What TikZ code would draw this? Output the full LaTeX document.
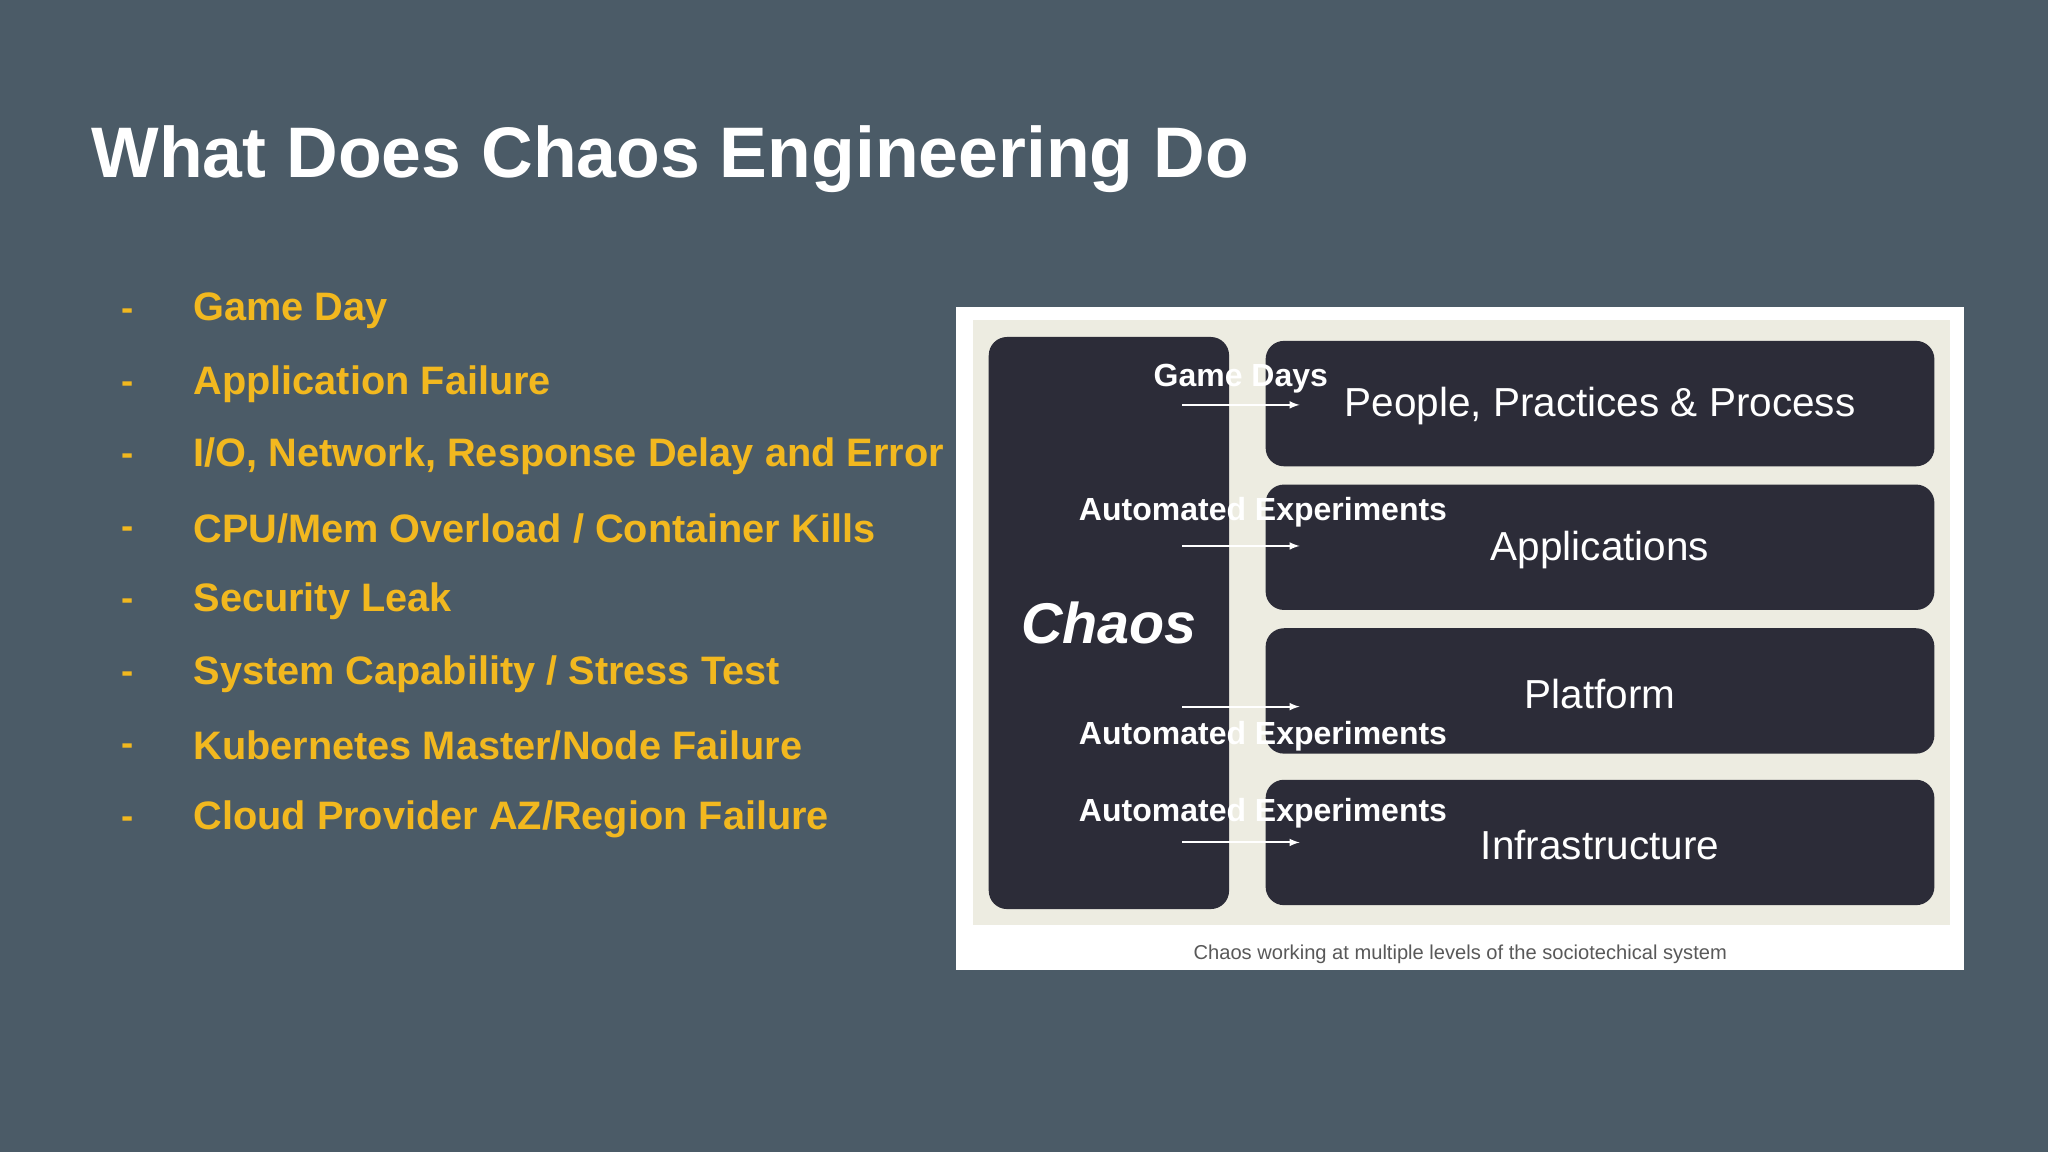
\documentclass[tikz,border=0pt]{standalone}
\usepackage{fontspec}
\setmainfont{Liberation Sans}
\begin{document}
\begin{tikzpicture}[x=1pt,y=-1pt,
  item/.style={anchor=west,text=yel,font=\fontsize{30.4}{32}\selectfont\bfseries,inner sep=0},
  bul/.style={anchor=west,text=yel,font=\fontsize{28}{30}\selectfont\bfseries,inner sep=0},
  box/.style={fill=boxc,rounded corners=14pt},
  lab/.style={text=white,font=\fontsize{31}{33}\selectfont,inner sep=0},
  alab/.style={text=white,font=\fontsize{24.5}{26}\selectfont\bfseries,inner sep=0},
  arr/.style={white,line width=1.6pt,-latex}]
\definecolor{bg}{HTML}{4B5B67}
\definecolor{yel}{HTML}{F2B81F}
\definecolor{boxc}{HTML}{2C2C38}
\definecolor{beige}{HTML}{EDECE1}
\useasboundingbox (0,0) rectangle (1568,882);
\fill[bg] (0,0) rectangle (1568,882);
\node[anchor=west,text=white,inner sep=0,font=\fontsize{54.8}{58}\selectfont\bfseries] (title) at (70,122) {What Does Chaos Engineering Do};
\foreach \y/\t [count=\i] in {238/Game Day,294/Application Failure,349/{I/O, Network, Response Delay and Error},405/{CPU/Mem Overload / Container Kills},460/Security Leak,516/{System Capability / Stress Test},571/{Kubernetes Master/Node Failure},627/{Cloud Provider AZ/Region Failure}}{
  \node[bul] (d\i) at (93,\y+3) {-};
  \node[item] (t\i) at (148,\y) {\t};
}
\fill[white] (732,235) rectangle (1504,743);
\fill[beige] (745,245) rectangle (1493,708);
\node[box,minimum width=184pt,minimum height=438pt,inner sep=0] (chaos) at (849,477) {};
\node[text=white,font=\fontsize{44}{46}\selectfont\bfseries\itshape] (chaostxt) at (849,477) {Chaos};
\node[box,minimum width=512pt,minimum height=96pt] (p1) at (1225,309) {};
\node[box,minimum width=512pt,minimum height=96pt] (p2) at (1225,419) {};
\node[box,minimum width=512pt,minimum height=96pt] (p3) at (1225,529) {};
\node[box,minimum width=512pt,minimum height=96pt] (p4) at (1225,645) {};
\node[lab] (l1) at (1225,311) {People, Practices \& Process};
\node[lab] (l2) at (1225,421) {Applications};
\node[lab] (l3) at (1225,531) {Platform};
\node[lab] (l4) at (1225,647) {Infrastructure};
\node[alab] (g1) at (950,290) {Game Days};
\node[alab] (g2) at (967,392) {Automated Experiments};
\node[alab] (g3) at (967,564) {Automated Experiments};
\node[alab] (g4) at (967,623) {Automated Experiments};
\coordinate (a1s) at (905,310); \coordinate (a1e) at (995,310);
\coordinate (a2s) at (905,418); \coordinate (a2e) at (995,418);
\coordinate (a3s) at (905,541); \coordinate (a3e) at (995,541);
\coordinate (a4s) at (905,645); \coordinate (a4e) at (995,645);
\draw[arr] (a1s) -- (a1e);
\draw[arr] (a2s) -- (a2e);
\draw[arr] (a3s) -- (a3e);
\draw[arr] (a4s) -- (a4e);
\node[text=black!65,font=\fontsize{15.4}{17}\selectfont,inner sep=0] (cap) at (1118,731) {Chaos working at multiple levels of the sociotechical system};
\end{tikzpicture}
\end{document}
